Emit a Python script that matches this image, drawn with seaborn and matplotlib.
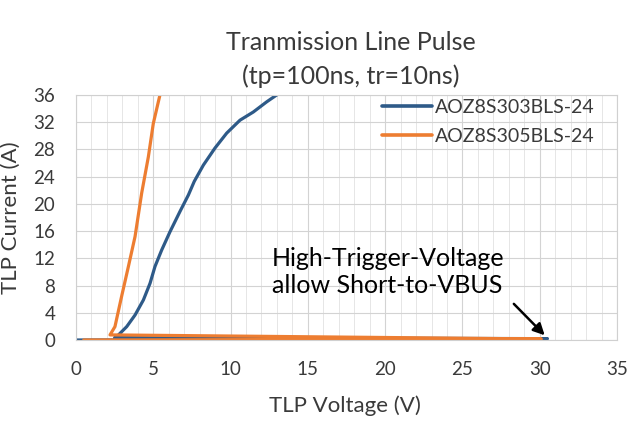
import matplotlib
matplotlib.use("Agg")
import matplotlib.pyplot as plt
import seaborn as sns
import pandas as pd
from matplotlib.ticker import MultipleLocator

# ---- data ----
series_names = ["AOZ8S303BLS-24", "AOZ8S305BLS-24"]
blue_v = [0.0, 10.0, 20.0, 30.5, 2.5, 2.74, 3.28, 3.82, 4.36, 4.79, 5.11, 5.54, 6.08, 6.73,
          7.27, 7.65, 8.24, 8.99, 9.75, 10.61, 11.47, 12.34, 12.98, 13.5]
blue_i = [0.0, 0.05, 0.1, 0.2, 0.35, 0.73, 1.96, 3.67, 5.88, 8.33, 10.8, 13.2, 15.9, 18.9,
          21.3, 23.3, 25.7, 28.2, 30.4, 32.3, 33.5, 35.0, 36.0, 36.6]
orange_v = [0.5, 10.0, 20.0, 30.1, 2.2, 2.52, 2.95, 3.39, 3.82, 4.25, 4.68, 5.0, 5.43, 5.55]
orange_i = [0.0, 0.05, 0.1, 0.15, 0.75, 1.96, 6.4, 10.8, 15.2, 21.6, 26.9, 31.8, 36.0, 37.2]
x_ticks = [0, 5, 10, 15, 20, 25, 30, 35]
y_ticks = [0, 4, 8, 12, 16, 20, 24, 28, 32, 36]
title_lines = ["Tranmission Line Pulse", "(tp=100ns, tr=10ns)"]
annotation_lines = ["High-Trigger-Voltage", "allow Short-to-VBUS"]

df = pd.concat([
    pd.DataFrame({"V": blue_v, "I": blue_i, "device": series_names[0]}),
    pd.DataFrame({"V": orange_v, "I": orange_i, "device": series_names[1]}),
], ignore_index=True)

sns.set_style("white")
plt.rcParams["font.family"] = ["Lato", "DejaVu Sans"]

text_color = "#3a3a3a"
fig = plt.figure(figsize=(6.3, 4.4), dpi=100)
ax = fig.add_axes([76/630, 100/440, 541/630, 245/440])

palette = {series_names[0]: "#2E5A88", series_names[1]: "#ED7D31"}
sns.lineplot(data=df, x="V", y="I", hue="device", palette=palette, sort=False,
             estimator=None, units="device", linewidth=2.3, ax=ax, legend=True)

ax.set_xlim(0, 35)
ax.set_ylim(0, 36)
ax.set_xticks(x_ticks)
ax.set_yticks(y_ticks)
ax.xaxis.set_minor_locator(MultipleLocator(1))
ax.grid(True, which="major", color="#D3D3D3", linewidth=0.8)
ax.grid(True, which="minor", axis="x", color="#E2E2E2", linewidth=0.6)
ax.set_axisbelow(True)
for s in ax.spines.values():
    s.set_color("#D0D0D0")
    s.set_linewidth(0.8)
ax.tick_params(axis="both", which="both", length=0, labelsize=13.5, labelcolor=text_color, pad=15)

ax.set_xlabel("TLP Voltage (V)", fontsize=16, color=text_color, va="center")
ax.xaxis.set_label_coords((345 - 76) / 541, (340 - 406) / 245)
ax.set_ylabel("TLP Current (A)", fontsize=16, color=text_color, va="center")
ax.yaxis.set_label_coords((11 - 76) / 541, (340 - 218) / 245)

fig.text(0.557, 1 - 42 / 440, title_lines[0], ha="center", va="center", fontsize=18, color=text_color)
fig.text(0.557, 1 - 76 / 440, title_lines[1], ha="center", va="center", fontsize=18, color=text_color)

leg = ax.legend(loc="upper left", bbox_to_anchor=((382 - 76) / 541, 1 - 4 / 245), frameon=False,
                fontsize=14, handlelength=2.55, handletextpad=0.18, labelspacing=0.6,
                borderaxespad=0, borderpad=0)
for t in leg.get_texts():
    t.set_color(text_color)
for h in leg.get_lines():
    h.set_linewidth(2.6)

ax.text(12.68, (340 - 258) / 6.806, annotation_lines[0], fontsize=18, color="black",
        va="center", ha="left")
ax.text(12.68, (340 - 285) / 6.806, annotation_lines[1], fontsize=18, color="black",
        va="center", ha="left")
ax.annotate("", xy=(30.45, 0.4), xytext=(28.2, 5.6),
            arrowprops=dict(arrowstyle="-|>", color="black", lw=1.8, mutation_scale=17))

fig.savefig("out.png", dpi=100)
